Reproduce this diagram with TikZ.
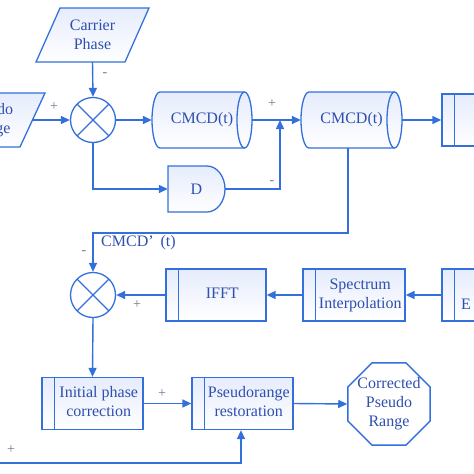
\documentclass[tikz,border=0pt]{standalone}
\usepackage{fontspec}
\setmainfont{Liberation Serif}
\usetikzlibrary{arrows.meta,shapes.geometric}
\definecolor{lb}{RGB}{52,112,220}
\definecolor{tb}{RGB}{45,80,175}
\definecolor{sg}{RGB}{110,120,150}
\definecolor{fl}{RGB}{230,236,252}
\newcommand{\bt}[1]{\hspace*{12.5pt}\begin{tabular}{@{}c@{}}#1\end{tabular}}
\newcommand{\mycyl}[2]{%
 \path[shp] ({#1+8},92) -- ({#2-7.5},92) .. controls ({#2-3.36},92) and (#2,104.5) .. (#2,120) .. controls (#2,135.5) and ({#2-3.36},148) .. ({#2-7.5},148) -- ({#1+8},148) .. controls ({#1+3.58},148) and (#1,135.5) .. (#1,120) .. controls (#1,104.5) and ({#1+3.58},92) .. ({#1+8},92) -- cycle;
 \draw[lb,line width=1.3pt] ({#2-7.5},92) .. controls ({#2-11.64},92) and ({#2-15},104.5) .. ({#2-15},120) .. controls ({#2-15},135.5) and ({#2-11.64},148) .. ({#2-7.5},148);
}
\begin{document}
\begin{tikzpicture}[x=1pt,y=-1pt,
  arr/.style={draw=lb, line width=1.4pt, -{Triangle[length=9pt,width=8pt]}},
  shp/.style={draw=lb, line width=1.3pt, top color=fl, bottom color=white},
  txt/.style={text=tb, font=\fontsize{16}{19}\selectfont, align=center},
  sgn/.style={text=sg, font=\fontsize{14}{16}\selectfont, inner sep=0pt},
  mix/.style={circle, draw=lb, line width=1.3pt, fill=white, minimum size=45pt, inner sep=0pt,
    path picture={\draw[lb,line width=1.3pt] (path picture bounding box.north west) -- (path picture bounding box.south east) (path picture bounding box.north east) -- (path picture bounding box.south west);}},
  pbox/.style={rectangle, shp, txt, minimum height=52pt, inner sep=0pt,
    path picture={\draw[lb,line width=1.3pt] ([xshift=12.5pt]path picture bounding box.north west) -- ([xshift=12.5pt]path picture bounding box.south west);}},
  ghost/.style={rectangle, inner sep=0pt, txt}
]
\useasboundingbox (0,0) rectangle (474,474);
\clip (0,0) rectangle (474,474);

% input shapes
\path[shp] (60,8) -- (149,8) -- (125,62) -- (36,62) -- cycle;
\node[ghost, minimum width=65pt, minimum height=54pt] (cp) at (92.5,35) {Carrier\\Phase};
\path[shp] (-44,93) -- (45,93) -- (20,147) -- (-69,147) -- cycle;
\node[ghost, minimum width=85pt, minimum height=54pt] (pr) at (-10,120) {Pseudo\\Range};

% cylinders
\mycyl{152}{252}
\node[ghost, minimum width=100pt, minimum height=56pt] (c1) at (202,120) {CMCD(t)};
\mycyl{301}{402}
\node[ghost, minimum width=101pt, minimum height=56pt] (c2) at (351.5,120) {CMCD(t)};

% delay
\path[shp] (168,166) -- (207,166) .. controls (216.9,166) and (225,176.3) .. (225,189) .. controls (225,201.7) and (216.9,212) .. (207,212) -- (168,212) -- cycle;
\node[ghost, minimum width=57pt, minimum height=46pt] (dg) at (196.5,189) {D};

% mixers
\node[mix] (m1) at (93,120) {};
\node[mix] (m2) at (93,295) {};

% process boxes
\node[pbox, minimum width=100pt] (b1) at (492,120) {};
\node[pbox, minimum width=100pt] (ifft) at (216,295) {\bt{IFFT}};
\node[pbox, minimum width=102pt] (sp) at (354,295) {\bt{Spectrum\\Interpolation}};
\node[pbox, minimum width=100pt] (eb) at (492,295) {};
\node[txt, inner sep=0pt] (et) at (466,304) {E};
\node[pbox, minimum width=101pt] (ipc) at (92.5,403.5) {\bt{Initial phase\\correction}};
\node[pbox, minimum width=101pt] (prs) at (242.5,403.5) {\bt{Pseudorange\\restoration}};

% output
\node[regular polygon, regular polygon sides=8, draw=lb, line width=1.3pt, fill=white, minimum size=89pt, inner sep=0pt, txt] (oct) at (389,404) {\makebox[0pt]{\begin{tabular}{@{}c@{}}Corrected\\Pseudo\\Range\end{tabular}}};

% connectors
\coordinate (j1) at (280,120);
\coordinate (k2) at (93,233);
\coordinate (bl) at (-5,463);
\draw[arr] (cp.south) -- (m1.north);
\draw[arr] (pr.east) -- (m1.west);
\draw[arr] (m1.east) -- (c1.west);
\draw[arr] (m1.south) |- (dg.west);
\draw[arr] (dg.east) -| (j1);
\draw[arr] (c1.east) -- (c2.west);
\draw[arr] (c2.east) -- (b1.west);
\draw[arr] ([xshift=-3.5pt]c2.south) |- (k2) -- (m2.north);
\draw[arr] (eb.west) -- (sp.east);
\draw[arr] (sp.west) -- (ifft.east);
\draw[arr] (ifft.west) -- (m2.east);
\draw[arr] (m2.south) -- (ipc.north);
\draw[arr] (ipc.east) -- (prs.west);
\draw[arr] (prs.east) -- (oct.west);
\draw[arr] (bl) -| ([xshift=-1.5pt]prs.south);

% labels
\node[txt, anchor=west, inner sep=0pt] (lab) at (101,243) {CMCD’\hspace{7pt}(t)};
\node[sgn] (s1) at (105,75) {-};
\node[sgn] (s2) at (54,107) {+};
\node[sgn] (s3) at (272,104) {+};
\node[sgn] (s4) at (272,183) {-};
\node[sgn] (s5) at (84,253) {-};
\node[sgn] (s6) at (137,305) {+};
\node[sgn] (s7) at (162,394) {+};
\node[sgn] (s8) at (11,450) {+};
\end{tikzpicture}
\end{document}
